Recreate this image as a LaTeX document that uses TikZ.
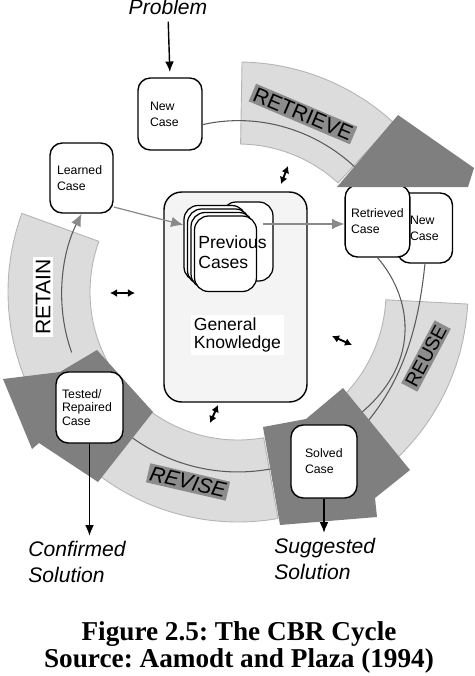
\documentclass[tikz,border=0pt]{standalone}
\usepackage{fontspec}
\setmainfont{Liberation Sans}
\newfontfamily\capfont{Liberation Serif}
\usetikzlibrary{arrows.meta}
\frenchspacing

\definecolor{bandgray}{HTML}{DCDCDC}
\definecolor{bandedge}{HTML}{B4B4B4}
\definecolor{arrowgray}{HTML}{7F7F7F}
\definecolor{labelgray}{HTML}{8C8C8C}
\definecolor{flowgray}{HTML}{5A5A5A}
\definecolor{ptrgray}{HTML}{8A8A8A}
\definecolor{kbgray}{HTML}{F4F4F4}

% one phase of the ring, from angle #1 to angle #2
\newcommand{\ringband}[2]{%
  \fill[band] plot[domain=#1:#2,samples=40] ({238+230*cos(\x)},{292+230*sin(\x)})
    -- plot[domain=#2:#1,samples=40] ({238+148*cos(\x)},{292+148*sin(\x)}) -- cycle;}

\tikzset{
  band/.style={fill=bandgray, draw=bandedge, line width=0.5pt},
  bigarrow/.style={fill=arrowgray},
  flow/.style={draw=flowgray, line width=0.6pt},
  casebox/.style={draw, line width=0.8pt, rounded corners=7pt, fill=white,
    align=left, font=\fontsize{7}{9}\selectfont},
  stackbox/.style={draw, line width=0.7pt, rounded corners=8pt, fill=white},
  kbox/.style={draw, line width=0.8pt, rounded corners=10pt, fill=kbgray},
  phase/.style={fill=labelgray, inner sep=1.3pt, font=\fontsize{12}{12}\selectfont},
  pointer/.style={draw=ptrgray, line width=0.7pt, -{Latex[length=7pt,width=6pt,color=ptrgray]}},
  io/.style={line width=0.8pt, -{Latex[length=6pt,width=5pt]}},
  iotext/.style={inner sep=0, align=left, font=\itshape\fontsize{12}{14.5}\selectfont},
  dbl/.style={line width=1.1pt, {Latex[length=4pt,width=4.5pt]}-{Latex[length=4pt,width=4.5pt]}}
}

\begin{document}
\begin{tikzpicture}[x=0.02cm, y=-0.02cm]
    \useasboundingbox (0,0) rectangle (474,676);

    % the four phases
    \ringband{-89}{-47.5}
    \ringband{3}{46}
    \ringband{80}{135}
    \ringband{150}{200}

    % boxes
    \node[casebox, minimum width=1.28cm, minimum height=1.44cm, text width=0.8cm] (newcase) at (170,114) {New\\Case};
    \node[casebox, minimum width=1.26cm, minimum height=1.40cm, text width=0.98cm] (learned) at (81.5,178) {Learned\\Case};
    \node[casebox, minimum width=1.10cm, minimum height=1.40cm, text width=0.6cm] (newcase2) at (425,228) {New\\Case};
    \node[casebox, minimum width=1.22cm, minimum height=1.44cm, text width=1.06cm] (retrieved) at (377.5,221) {Retrieved\\Case};

    % flow along the ring
    \coordinate (retrieveend) at (359,171);
    \coordinate (reuseA) at (361,413);
    \coordinate (reuseB) at (368,421);
    \coordinate (reviseA) at (275.4,468);
    \coordinate (reviseB) at (122.3,429.9);
    \coordinate (retainA) at (71.7,352.5);
    \draw[flow] (newcase.-18) .. controls (258.7,111.9) and (318,130) .. (retrieveend);
    \draw[flow] (retrieved.south) .. controls (410,295) and (424,360) .. (reuseA);
    \draw[flow] (newcase2.south) .. controls (420,310) and (410,370) .. (reuseB);
    \draw[flow] (reviseA) .. controls (221.2,479.5) and (164.7,465.5) .. (reviseB);
    \draw[flow, -{Latex[length=7pt,width=6pt,color=ptrgray]}] (retainA) .. controls (55.3,307.4) and (60.5,256) .. (learned.south);

    % arrow heads of the phases
    \fill[bigarrow] (398,115) -- (474,168) -- (468,187) -- (337,187) -- cycle;
    \fill[bigarrow] (343,388) -- (410,470) -- (375,498) -- (377,517) -- (280,525) -- (263,427) -- (306,419) -- cycle;
    \fill[bigarrow] (97,350) -- (153,412) -- (98,482) -- (39,443) -- (32,449) -- (3,379) -- (60,372) -- cycle;

    \node[casebox, minimum width=1.32cm, minimum height=1.46cm, text width=0.76cm] (solved) at (324,461.5) {Solved\\Case};
    \node[casebox, minimum width=1.34cm, minimum height=1.42cm, text width=1.1cm, font=\fontsize{7}{7.8}\selectfont] (tested) at (89.5,407.5) {Tested/\\Repaired\\Case};

    % case base
    \node[kbox, minimum width=2.86cm, minimum height=4.2cm] (knowbox) at (235.5,297) {};
    \node[stackbox, minimum width=1.02cm, minimum height=1.58cm] (prevback) at (247.5,241.5) {};
    \foreach \k in {0,...,3}
        \node[stackbox, minimum width=1.24cm, minimum height=1.51cm] (prev\k) at ({215+3.5*\k},{243.25+3.5*\k}) {};
    \node[anchor=west, inner sep=0, align=left, font=\fontsize{10}{11.5}\selectfont] (prevtext) at (198,252) {Previous\\Cases};
    \node[anchor=west, inner sep=1.5pt, fill=white, align=left, font=\fontsize{10}{10.5}\selectfont] (genknow) at (191,335) {General\\Knowledge};

    \coordinate (prevout) at (263,224);
    \draw[pointer] (learned.-42) -- (prev0.150);
    \draw[pointer] (prevout) -- (prevout -| retrieved.west);

    % phase names
    \node[phase, rotate=-23] (retrieve) at (303,114) {RETRIEVE};
    \node[phase, rotate=62, font=\fontsize{11}{11}\selectfont] (reuse) at (426,356) {REUSE};
    \node[phase, rotate=-13, font=\itshape\fontsize{12}{12}\selectfont] (revise) at (188,482) {REVISE};
    \node[phase, fill=white, rotate=90] (retain) at (43,297) {RETAIN};

    % links to general knowledge
    \draw[dbl] (288,166) -- (281,184);
    \draw[dbl] (110,293) -- (135,293);
    \draw[dbl] (332,336) -- (352,345);
    \draw[dbl] (218,405) -- (210,423);

    % in and out
    \node[inner sep=0, anchor=base, font=\itshape\fontsize{12}{12}\selectfont] (problem) at (168,14) {Problem};
    \node[iotext, anchor=north west] (confirmed) at (28,541) {Confirmed\\Solution};
    \node[iotext, anchor=north west] (suggested) at (274,538) {Suggested\\Solution};
    \draw[io, shorten <=4pt, shorten >=3pt] (problem.south) -- (newcase.north);
    \draw[io, shorten >=3pt] (tested.south) -- (tested.south |- confirmed.north);
    \draw[io, shorten >=3pt] (solved.south) -- (solved.south |- suggested.north);

    % caption
    \node[anchor=base, font=\capfont\bfseries\fontsize{15.5}{15.5}\selectfont] (figcap) at (239,640) {Figure 2.5: The CBR Cycle};
    \node[anchor=base, font=\capfont\bfseries\fontsize{15.5}{15.5}\selectfont] (srccap) at (239,667) {Source: Aamodt and Plaza (1994)};
\end{tikzpicture}
\end{document}
